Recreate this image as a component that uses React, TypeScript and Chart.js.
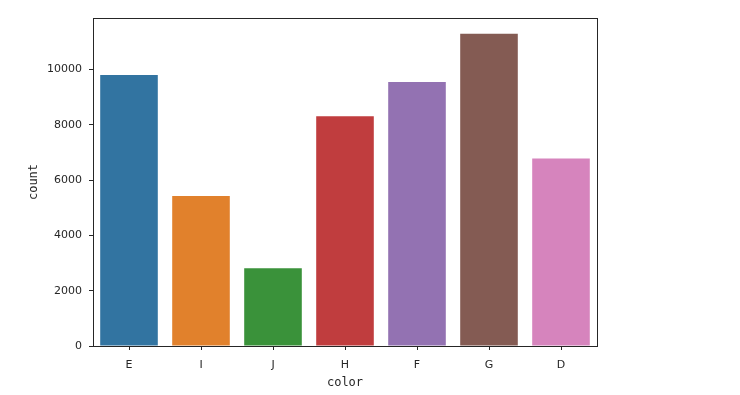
import React, { useEffect, useRef } from "react";
import { Chart, registerables } from "chart.js";

Chart.register(...registerables);

const categories = ["E", "I", "J", "H", "F", "G", "D"];
const counts = [9797, 5422, 2808, 8304, 9542, 11292, 6775];
const colors = ["#3274a1", "#e1812c", "#3a923a", "#c03d3e", "#9372b2", "#845b53", "#d684bd"];
const yTicks = [0, 2000, 4000, 6000, 8000, 10000];
const yMax = 11857;

const frame = {
  id: "frame",
  afterDraw(chart: any) {
    const { ctx, chartArea } = chart;
    ctx.save();
    ctx.strokeStyle = "#262626";
    ctx.lineWidth = 1;
    ctx.strokeRect(
      Math.round(chartArea.left) + 0.5,
      Math.round(chartArea.top) + 0.5,
      Math.round(chartArea.right - chartArea.left),
      Math.round(chartArea.bottom - chartArea.top)
    );
    ctx.restore();
  },
};

export default function App() {
  const ref = useRef<HTMLCanvasElement>(null);
  useEffect(() => {
    document.body.style.margin = "0";
    const chart = new Chart(ref.current!, {
      type: "bar",
      data: {
        labels: categories,
        datasets: [
          {
            data: counts,
            backgroundColor: colors,
            borderWidth: 0,
            categoryPercentage: 1,
            barPercentage: 0.8,
          },
        ],
      },
      plugins: [frame],
      options: {
        animation: false,
        responsive: false,
        layout: { padding: { top: 18, right: 143, left: 27, bottom: 0 } },
        plugins: { legend: { display: false }, tooltip: { enabled: false } },
        scales: {
          x: {
            offset: true,
            grid: { offset: false, drawOnChartArea: false, drawTicks: true, tickLength: 4, color: "#262626" },
            border: { display: true, color: "#262626" },
            ticks: { color: "#262626", font: { family: "DejaVu Sans", size: 11 }, padding: 9 },
            title: {
              display: true,
              text: "color",
              color: "#262626",
              font: { family: "DejaVu Sans Mono", size: 12 },
              padding: { top: 2, bottom: 5 },
            },
            afterFit(scale: any) {
              scale.height = 49;
            },
          },
          y: {
            min: 0,
            max: yMax,
            grid: { drawOnChartArea: false, drawTicks: true, tickLength: 4, color: "#262626" },
            border: { display: true, color: "#262626" },
            ticks: {
              color: "#262626",
              font: { family: "DejaVu Sans", size: 11 },
              padding: 7,
              callback: (v: any) => String(v),
            },
            afterBuildTicks(scale: any) {
              scale.ticks = yTicks.map((v) => ({ value: v }));
            },
            title: {
              display: true,
              text: "count",
              color: "#262626",
              font: { family: "DejaVu Sans Mono", size: 12 },
              padding: { top: 0, bottom: 0 },
            },
            afterFit(scale: any) {
              scale.width = 66;
            },
          },
        },
      },
    });
    return () => chart.destroy();
  }, []);
  return (
    <div style={{ position: "fixed", left: 0, top: 0, width: 740, height: 395, background: "#fff" }}>
      <canvas ref={ref} width={740} height={395} />
    </div>
  );
}
